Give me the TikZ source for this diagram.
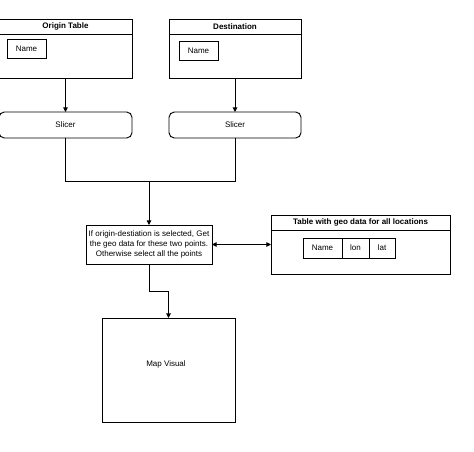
\documentclass[tikz,border=0pt]{standalone}
\usepackage{fontspec}
\setmainfont{Liberation Sans}
\usetikzlibrary{arrows.meta}

\begin{document}
\begin{tikzpicture}[x=0.75pt,y=-0.75pt,
    font=\fontsize{6}{7.2}\selectfont,
    box/.style={draw,line width=0.7pt,inner sep=0pt,outer sep=0pt},
    hdr/.style={box,anchor=north,minimum height=11.25pt,font=\fontsize{6}{7.2}\selectfont\bfseries},
    slc/.style={box,rounded corners=4pt,minimum width=99.75pt,minimum height=19.5pt},
    arr/.style={line width=0.7pt,-{Triangle[length=3.5pt,width=3.5pt]}},
    ln/.style={line width=0.7pt}]
    \useasboundingbox (0,0) rectangle (474,452);

    % Draw source tables
    \node[box,minimum width=99.75pt,minimum height=44.25pt] (orig) at (65.5,48.5) {};
    \node[hdr,minimum width=99.75pt] (origh) at (orig.north) {Origin Table};
    \node[box,minimum width=29.25pt,minimum height=14.25pt] (origname) at (26.5,48.5) {Name};

    \node[box,minimum width=99pt,minimum height=44.25pt] (dest) at (235,48.5) {};
    \node[hdr,minimum width=99pt] (desth) at (dest.north) {Destination};
    \node[box,minimum width=29.25pt,minimum height=14.25pt] (destname) at (198.5,51) {Name};

    % Draw slicers
    \node[slc] (slc1) at (65.5,125) {Slicer};
    \node[slc,minimum width=99pt] (slc2) at (235,125) {Slicer};

    \draw[arr] (orig) -- (slc1);
    \draw[arr] (dest) -- (slc2);

    % Draw selection step
    \node[box,minimum width=94.5pt,minimum height=29.25pt,align=center] (sel) at (149,244.5)
        {If origin-destiation is selected, Get\\the geo data for these two points.\\Otherwise select all the points};
    \coordinate (join) at (149,181);
    \draw[ln] (slc1.south) |- (join);
    \draw[ln] (slc2.south) |- (join);
    \draw[arr] (join) -- (sel.north);

    % Draw geo table
    \node[box,minimum width=134.25pt,minimum height=44.25pt] (geo) at (360.5,244.5) {};
    \node[hdr,minimum width=134.25pt] (geoh) at (geo.north) {Table with geo data for all locations};
    \node[box,minimum width=29.25pt,minimum height=15pt] (geoname) at (322.5,248) {Name};
    \node[box,minimum width=20.25pt,minimum height=15pt,anchor=west] (geolon) at (geoname.east) {lon};
    \node[box,minimum width=19.5pt,minimum height=15pt,anchor=west] (geolat) at (geolon.east) {lat};

    \draw[line width=0.7pt,{Triangle[length=3.5pt,width=3.5pt]}-{Triangle[length=3.5pt,width=3.5pt]}] (sel.east) -- (geo.west |- sel.east);

    % Draw map visual
    \node[box,minimum width=99.75pt,minimum height=78pt] (map) at (168.5,370) {};
    \node (maplabel) at (166,364.5) {Map Visual};
    \draw[arr] (sel.south) -- ++(0,27) -| (map.north);
\end{tikzpicture}
\end{document}
